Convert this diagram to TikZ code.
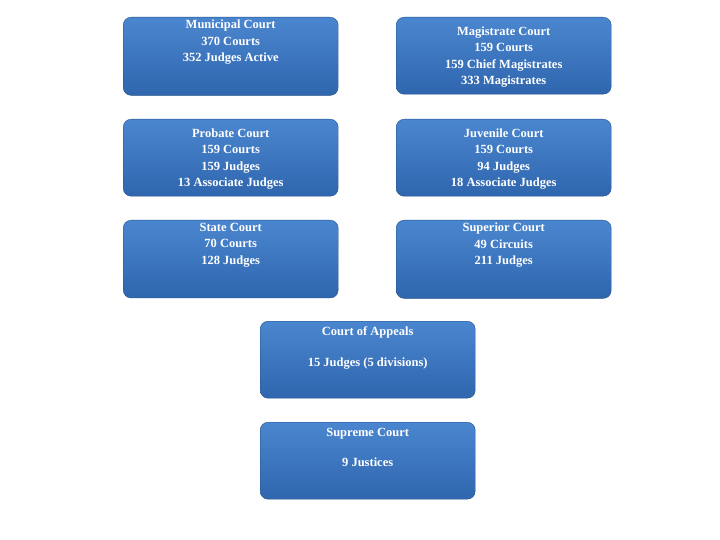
\documentclass[tikz,border=0pt]{standalone}
\usepackage{fontspec}
\setmainfont{Liberation Serif}
\definecolor{boxtop}{HTML}{4A86CF}
\definecolor{boxbot}{HTML}{2F66AE}
\tikzset{court/.style={rounded corners=8pt, top color=boxtop, bottom color=boxbot, draw=boxbot!80!black, line width=0.4pt,
  minimum width=215pt, minimum height=77pt, text=white, font=\bfseries\fontsize{12.5}{16.5}\selectfont, align=center, anchor=north west, inner sep=3pt, text depth=0pt}}
\begin{document}
\begin{tikzpicture}[x=1pt,y=-1pt]
\fill[white] (0,0) rectangle (720,540);
\useasboundingbox (0,0) rectangle (720,540);
\node[court] (mun) at (123,17) {\raisebox{0pt}{}Municipal Court\\370 Courts\\352 Judges Active\\[14pt]};
\node[court] (mag) at (396,17) {Magistrate Court\\159 Courts\\159 Chief Magistrates\\333 Magistrates};
\node[court] (pro) at (123,119) {Probate Court\\159 Courts\\159 Judges\\13 Associate Judges};
\node[court] (juv) at (396,119) {Juvenile Court\\159 Courts\\94 Judges\\18 Associate Judges};
\node[court] (sta) at (123,220) {State Court\\70 Courts\\128 Judges\\[14pt]};
\node[court] (sup) at (396,220) {Superior Court\\49 Circuits\\211 Judges\\[14pt]};
\node[court] (app) at (260,321) {Court of Appeals\\[14pt]15 Judges (5 divisions)\\[10pt]};
\node[court] (spr) at (260,422) {Supreme Court\\[14pt]9 Justices\\[10pt]};
\end{tikzpicture}
\end{document}
